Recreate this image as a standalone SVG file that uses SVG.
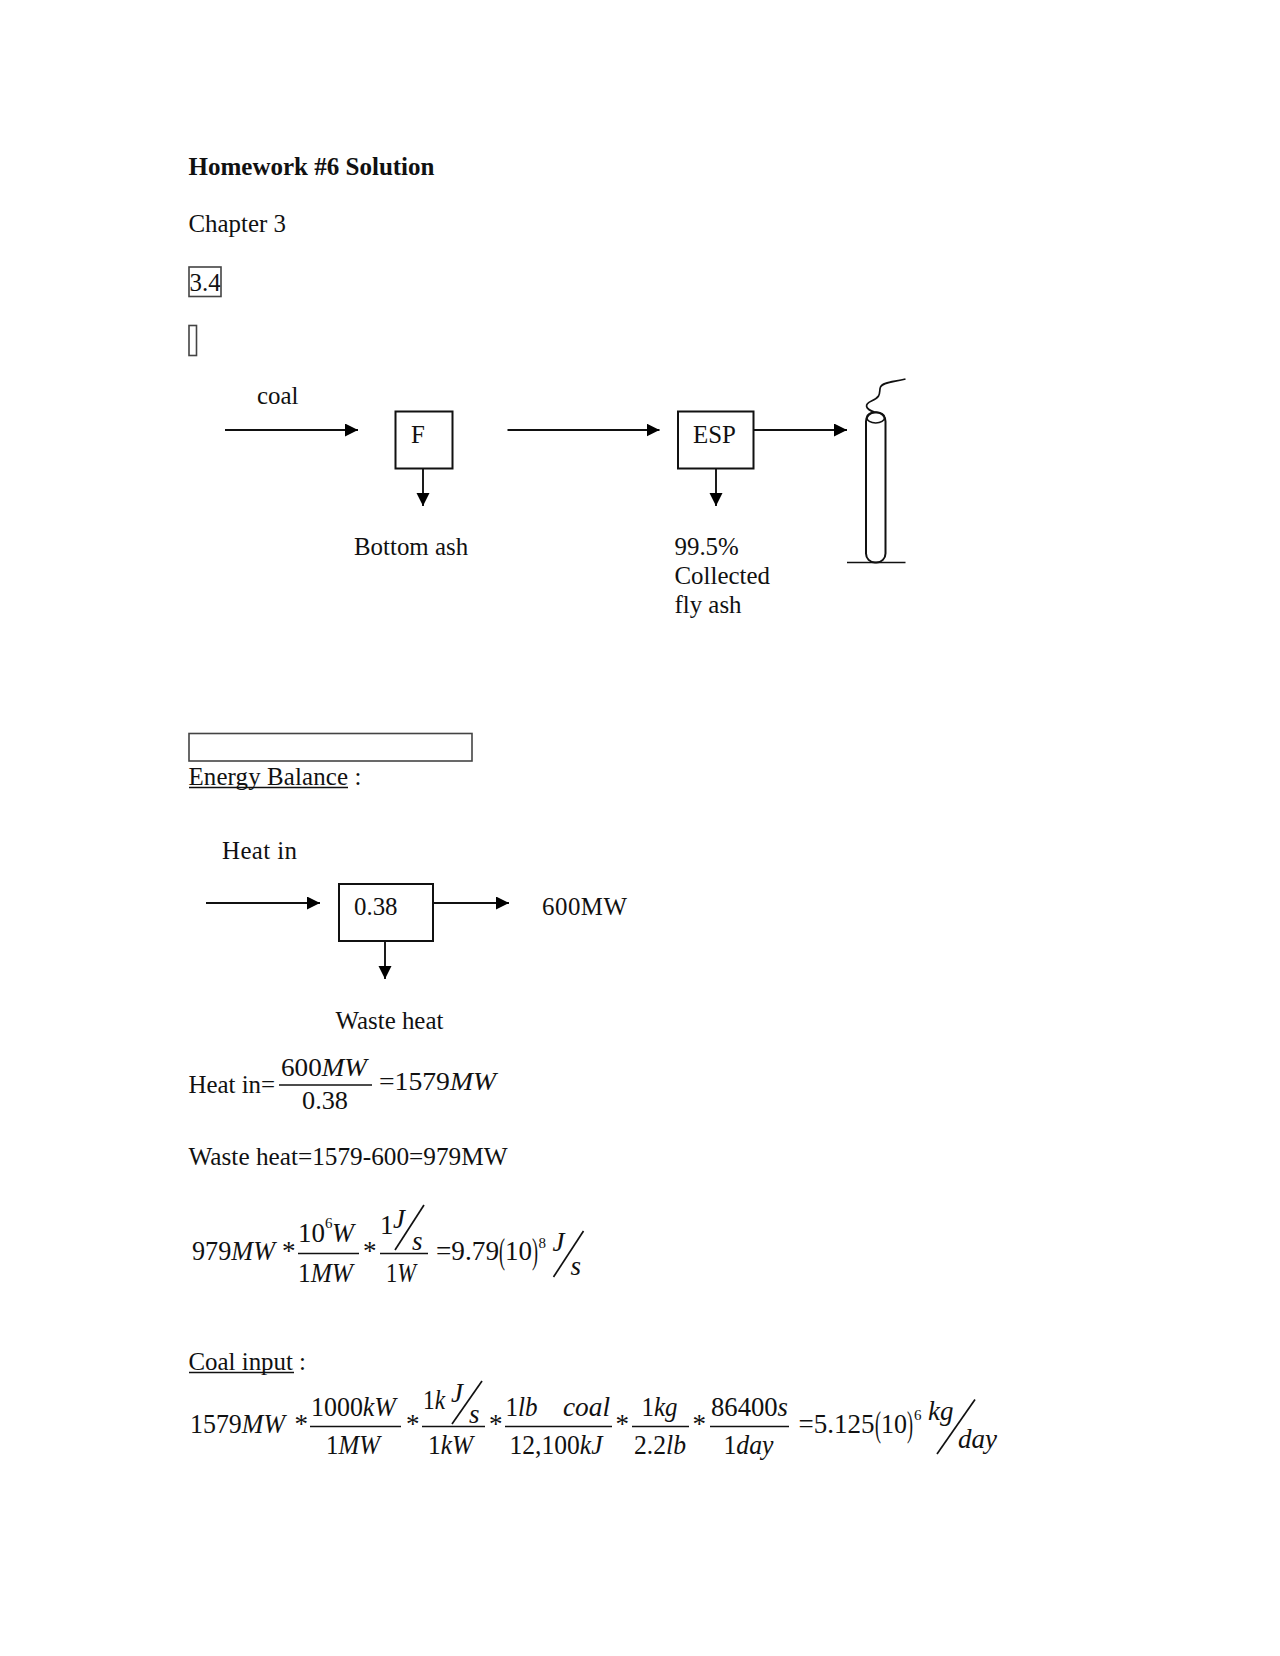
<svg xmlns="http://www.w3.org/2000/svg" width="1280" height="1656" viewBox="0 0 1280 1656">
<style>
text{font-family:"Liberation Serif","Times New Roman",serif;font-size:24.9px;fill:#111}
.b{font-weight:bold}
.i{font-style:italic}
.m{font-size:27px}
.s{font-size:15px}
.p{font-size:35px;font-weight:200}
.box{fill:none;stroke:#111;stroke-width:2}
.gbox{fill:none;stroke:#444;stroke-width:1.6}
.ln{fill:none;stroke:#111;stroke-width:1.7}
.arr{fill:none;stroke:#111;stroke-width:1.9;marker-end:url(#ah)}
</style>
<defs>
<marker id="ah" markerUnits="userSpaceOnUse" markerWidth="14" markerHeight="14" refX="13" refY="6.5" orient="auto"><path d="M0 0L13 6.5L0 13Z" fill="#000"/></marker>
</defs>
<rect width="1280" height="1656" fill="#fff"/>
<g id="headings">
<text class="b" x="188.500" y="175" textLength="246" lengthAdjust="spacingAndGlyphs">Homework #6 Solution</text>
<text x="188.500" y="232">Chapter 3</text>
<text x="189.500" y="291">3.4</text>
<rect class="gbox" x="189" y="267" width="32" height="29.500"/>
<rect class="gbox" x="189" y="325.500" width="7.500" height="30"/>
<rect class="gbox" x="189" y="733.500" width="283" height="27.500"/>
<text x="188.500" y="785" textLength="173" lengthAdjust="spacing">Energy Balance :</text>
<path class="ln" d="M189 787.500H348"/>
</g>
<g id="connectors">
<path class="arr" d="M225 430H358"/>
<path class="arr" d="M507.500 430H659.500"/>
<path class="arr" d="M753.500 430H847"/>
<path class="arr" d="M423 468V506"/>
<path class="arr" d="M716 468V506"/>
<path class="arr" d="M206 903H320"/>
<path class="arr" d="M433 903H509"/>
<path class="arr" d="M385 940V979"/>
</g>
<g id="node-coal"><text x="257" y="404">coal</text></g>
<g id="node-F"><rect class="box" x="395.500" y="411.500" width="57" height="57"/><text x="411" y="443">F</text></g>
<g id="node-bottom-ash"><text x="354" y="555">Bottom ash</text></g>
<g id="node-ESP"><rect class="box" x="678" y="411.500" width="75.500" height="57"/><text x="693" y="443">ESP</text></g>
<g id="node-fly-ash"><text x="674.500" y="555">99.5%</text><text x="674.500" y="584">Collected</text><text x="674.500" y="613">fly ash</text></g>
<g id="node-stack">
<rect class="box" x="866" y="412.500" width="19.500" height="150" rx="9"/>
<ellipse class="ln" cx="875.700" cy="417.500" rx="9" ry="5.500"/>
<path class="ln" d="M874.500 412C864.500 409 864.500 404 871.500 401C882.500 396 878.500 392 880.500 387C882.500 382 893.500 382 905.500 379"/>
<path class="ln" d="M847 562.500H905.500"/>
</g>
<g id="node-heat-in"><text x="222" y="859" textLength="75" lengthAdjust="spacing">Heat in</text></g>
<g id="node-efficiency"><rect class="box" x="339" y="884" width="94" height="57"/><text x="354" y="915">0.38</text></g>
<g id="node-600MW"><text x="542" y="915" textLength="85" lengthAdjust="spacing">600MW</text></g>
<g id="node-waste-heat"><text x="335.500" y="1029">Waste heat</text></g>
<g id="equation-heat-in">
<text x="188.500" y="1093">Heat in=</text>
<text x="281" y="1076" textLength="86" lengthAdjust="spacingAndGlyphs">600<tspan class="i">MW</tspan></text>
<path class="ln" d="M279 1085H372"/>
<text x="302" y="1109" textLength="46" lengthAdjust="spacingAndGlyphs">0.38</text>
<text x="379" y="1090" textLength="117" lengthAdjust="spacingAndGlyphs">=1579<tspan class="i">MW</tspan></text>
</g>
<g id="equation-waste-heat"><text x="188.500" y="1165" textLength="319" lengthAdjust="spacingAndGlyphs">Waste heat=1579-600=979MW</text></g>
<g id="equation-energy">
<text class="m" x="192" y="1260" textLength="83" lengthAdjust="spacingAndGlyphs">979<tspan class="i">MW</tspan></text>
<text class="m" x="282" y="1260">*</text>
<text class="m" x="298" y="1242">10</text><text class="s" x="325" y="1228">6</text><text class="m i" x="332" y="1242" textLength="22" lengthAdjust="spacingAndGlyphs">W</text>
<path class="ln" d="M298 1253.500H359"/>
<text class="m" x="298" y="1282" textLength="55" lengthAdjust="spacingAndGlyphs">1<tspan class="i">MW</tspan></text>
<text class="m" x="363" y="1260">*</text>
<text class="m" x="380" y="1234">1</text><text class="m i" x="393" y="1228">J</text>
<path class="ln" d="M395 1250L424 1205"/>
<text class="m i" x="412" y="1250">s</text>
<path class="ln" d="M380 1253.500H428"/>
<text class="m" x="386" y="1282" textLength="30" lengthAdjust="spacingAndGlyphs">1<tspan class="i">W</tspan></text>
<text class="m" x="436" y="1260" textLength="63" lengthAdjust="spacingAndGlyphs">=9.79</text>
<text class="p" x="499" y="1263" textLength="6" lengthAdjust="spacingAndGlyphs">(</text>
<text class="m" x="505" y="1260" textLength="27" lengthAdjust="spacingAndGlyphs">10</text>
<text class="p" x="532" y="1263" textLength="6" lengthAdjust="spacingAndGlyphs">)</text>
<text class="s" x="538.500" y="1248">8</text>
<text class="m i" x="552.500" y="1251">J</text>
<path class="ln" d="M553.500 1277L583.500 1231"/>
<text class="m i" x="570.500" y="1275">s</text>
</g>
<g id="equation-coal">
<text x="188.500" y="1370">Coal input :</text>
<path class="ln" d="M189 1372.500H294"/>
<text class="m" x="190" y="1433" textLength="95" lengthAdjust="spacingAndGlyphs">1579<tspan class="i">MW</tspan></text>
<text class="m" x="294.500" y="1433">*</text>
<text class="m" x="311" y="1416" textLength="85" lengthAdjust="spacingAndGlyphs">1000<tspan class="i">kW</tspan></text>
<path class="ln" d="M310 1426.500H401"/>
<text class="m" x="326" y="1454" textLength="54" lengthAdjust="spacingAndGlyphs">1<tspan class="i">MW</tspan></text>
<text class="m" x="406" y="1433">*</text>
<text class="m" x="423" y="1409" textLength="22" lengthAdjust="spacingAndGlyphs">1<tspan class="i">k</tspan></text>
<text class="m i" x="451" y="1402">J</text>
<path class="ln" d="M452 1424L482 1381"/>
<text class="m i" x="469" y="1423">s</text>
<path class="ln" d="M422 1426.500H485"/>
<text class="m" x="428" y="1454" textLength="45" lengthAdjust="spacingAndGlyphs">1<tspan class="i">kW</tspan></text>
<text class="m" x="489" y="1433">*</text>
<text class="m" x="505.500" y="1416" textLength="32" lengthAdjust="spacingAndGlyphs">1<tspan class="i">lb</tspan></text>
<text class="m i" x="563" y="1416" textLength="47" lengthAdjust="spacingAndGlyphs">coal</text>
<path class="ln" d="M505 1426.500H612"/>
<text class="m" x="509.500" y="1454" textLength="93" lengthAdjust="spacingAndGlyphs">12,100<tspan class="i">kJ</tspan></text>
<text class="m" x="615.500" y="1433">*</text>
<text class="m" x="641.500" y="1416" textLength="36" lengthAdjust="spacingAndGlyphs">1<tspan class="i">kg</tspan></text>
<path class="ln" d="M632 1426.500H689"/>
<text class="m" x="634" y="1454" textLength="52" lengthAdjust="spacingAndGlyphs">2.2<tspan class="i">lb</tspan></text>
<text class="m" x="692.500" y="1433">*</text>
<text class="m" x="711" y="1416" textLength="77" lengthAdjust="spacingAndGlyphs">86400<tspan class="i">s</tspan></text>
<path class="ln" d="M710 1426.500H789"/>
<text class="m" x="723.500" y="1454" textLength="50" lengthAdjust="spacingAndGlyphs">1<tspan class="i">day</tspan></text>
<text class="m" x="798.500" y="1433" textLength="76" lengthAdjust="spacingAndGlyphs">=5.125</text>
<text class="p" x="875" y="1436" textLength="6" lengthAdjust="spacingAndGlyphs">(</text>
<text class="m" x="881" y="1433" textLength="26" lengthAdjust="spacingAndGlyphs">10</text>
<text class="p" x="907" y="1436" textLength="6" lengthAdjust="spacingAndGlyphs">)</text>
<text class="s" x="914" y="1420">6</text>
<text class="m i" x="928" y="1420">kg</text>
<path class="ln" d="M937 1454L975 1399.500"/>
<text class="m i" x="958" y="1448">day</text>
</g>
</svg>
